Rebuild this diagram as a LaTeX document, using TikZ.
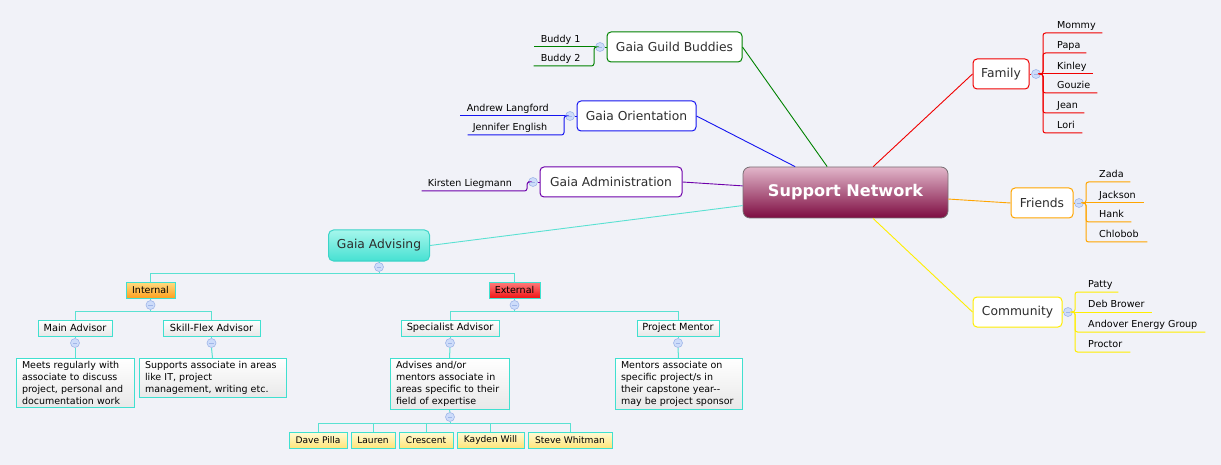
\documentclass[tikz,border=0pt]{standalone}
\usepackage{fontspec}
\setmainfont{DejaVu Sans}
\usetikzlibrary{calc}
\definecolor{bg}{RGB}{241,242,248}
\definecolor{tx}{RGB}{45,45,45}
\definecolor{cgreen}{RGB}{0,130,0}
\definecolor{cblue}{RGB}{20,20,240}
\definecolor{cpurple}{RGB}{110,0,170}
\definecolor{cred}{RGB}{240,0,0}
\definecolor{corange}{RGB}{255,165,0}
\definecolor{cyellow}{RGB}{255,238,0}
\definecolor{turq}{RGB}{64,224,208}
\definecolor{tline}{RGB}{90,225,210}
\definecolor{tgray}{RGB}{232,232,232}
\definecolor{cfill}{RGB}{205,220,250}
\definecolor{cbd}{RGB}{160,182,232}
\definecolor{snb}{RGB}{120,110,115}
\definecolor{sntop}{RGB}{226,182,202}
\definecolor{snmid}{RGB}{170,70,115}
\definecolor{snbot}{RGB}{125,12,65}
\definecolor{gatop}{RGB}{165,246,236}
\definecolor{gabot}{RGB}{70,225,210}
\definecolor{gabd}{RGB}{60,212,200}
\definecolor{intop}{RGB}{255,220,130}
\definecolor{inbot}{RGB}{255,160,30}
\definecolor{extop}{RGB}{255,125,125}
\definecolor{exbot}{RGB}{240,20,20}
\definecolor{yltop}{RGB}{255,252,215}
\definecolor{ylbot}{RGB}{255,228,120}
\newcommand\lb[3]{\makebox[#1pt][l]{\hspace*{#2pt}#3}}
\tikzset{
  topic/.style={draw=#1, fill=white, line width=1pt, rounded corners=4pt, inner sep=0pt, text=tx, font=\fontsize{12.3}{14}\selectfont},
  tsize/.style 2 args={minimum width=#1pt, minimum height=#2pt},
  mcircle/.style={circle, draw=cbd, fill=cfill, minimum size=9pt, inner sep=0pt, line width=0.6pt,
    path picture={\draw[cbd, line width=0.8pt] ([xshift=2.2pt]path picture bounding box.west) -- ([xshift=-2.2pt]path picture bounding box.east);}},
  leaf/.style={inner sep=0pt, text height=7.5pt, text depth=4pt, text=black, font=\fontsize{9.6}{11}\selectfont},
  conn/.style={line width=0.9pt, draw=#1},
  br/.style={line width=1pt, draw=#1, rounded corners=2.5pt},
  tnode/.style={draw=turq, line width=1pt, top color=white, bottom color=tgray, inner sep=0pt, text=black, font=\fontsize{9.8}{11}\selectfont},
  desc/.style={draw=turq, line width=1pt, top color=white, bottom color=tgray, inner xsep=6pt, inner ysep=3pt, align=left, anchor=north, text=black, font=\fontsize{9.5}{12}\selectfont},
  yleaf/.style={tnode, top color=yltop, bottom color=ylbot, font=\fontsize{9.1}{11}\selectfont},
  tl/.style={draw=tline, line width=1pt},
}
\begin{document}
\begin{tikzpicture}[x=1pt,y=-1pt]
\path[fill=bg] (0,0) rectangle (1221,465);

% central node
\node[draw=snb, line width=0.8pt, rounded corners=7pt, top color=sntop, middle color=snmid, bottom color=snbot, minimum width=205pt, minimum height=51pt, inner sep=0pt, text=white, font=\bfseries\fontsize{16.1}{18}\selectfont] (sn) at (845.5,192.5) {Support Network};

% Gaia Guild Buddies
\node[topic=cgreen, tsize={135}{30}] (ggb) at (674.5,47) {Gaia Guild Buddies};
\node[mcircle] (ggbc) at (600,47) {};
\node[leaf, anchor=south east] (b1) at (594,47) {\lb{60}{7}{Buddy 1}};
\node[leaf, anchor=south east] (b2) at (594,66) {\lb{60}{7}{Buddy 2}};
\draw[conn=cgreen] (ggb.west) -- (ggbc.east);
\draw[br=cgreen] (ggbc.west) -- (b1.south west);
\draw[br=cgreen] (ggbc.west) -- (ggbc.west -| b2.south east) |- (b2.south west);
\draw[conn=cgreen] (ggb.east) -- (sn);

% Gaia Orientation
\node[topic=cblue, tsize={119}{30}] (go) at (636.5,116) {Gaia Orientation};
\node[mcircle] (goc) at (570,116) {};
\node[leaf, anchor=south east] (al) at (564,116) {\lb{104}{7}{Andrew Langford}};
\node[leaf, anchor=south east] (je) at (564,135) {\lb{96}{5}{Jennifer English}};
\draw[conn=cblue] (go.west) -- (goc.east);
\draw[br=cblue] (goc.west) -- (al.south west);
\draw[br=cblue] (goc.west) -- (goc.west -| je.south east) |- (je.south west);
\draw[conn=cblue] (go.east) -- (sn);

% Gaia Administration
\node[topic=cpurple, tsize={142}{30}] (gadm) at (611,182) {Gaia Administration};
\node[mcircle] (gadmc) at (533,182) {};
\node[leaf, anchor=south east] (kl) at (527,191) {\lb{105}{6}{Kirsten Liegmann}};
\draw[conn=cpurple] (gadm.west) -- (gadmc.east);
\draw[br=cpurple] (gadmc.west) -- (gadmc.west -| kl.south east) |- (kl.south west);
\draw[conn=cpurple] (gadm.east) -- (sn);

% Family
\node[topic=cred, tsize={56}{30}] (fam) at (1001,74) {Family};
\node[mcircle] (famc) at (1036,74) {};
\node[leaf, anchor=south west] (mo) at (1043,33) {\lb{59}{14}{Mommy}};
\node[leaf, anchor=south west] (pa) at (1043,53) {\lb{43}{14}{Papa}};
\node[leaf, anchor=south west] (ki) at (1043,74) {\lb{50}{14}{Kinley}};
\node[leaf, anchor=south west] (gz) at (1043,93) {\lb{54}{14}{Gouzie}};
\node[leaf, anchor=south west] (jn) at (1043,113) {\lb{41}{14}{Jean}};
\node[leaf, anchor=south west] (lo) at (1043,133) {\lb{39}{14}{Lori}};
\draw[conn=cred] (fam.east) -- (famc.west);
\draw[br=cred] (famc.east) -- (ki.south east);
\foreach \n in {mo,pa,gz,jn,lo}
  \draw[br=cred] (famc.east) -- (famc.east -| \n.south west) |- (\n.south east);
\draw[conn=cred] (fam.west) -- (sn);

% Friends
\node[topic=corange, tsize={62}{30}] (fri) at (1042,203) {Friends};
\node[mcircle] (fric) at (1079,203) {};
\node[leaf, anchor=south west] (za) at (1086,182) {\lb{44}{13}{Zada}};
\node[leaf, anchor=south west] (ja) at (1086,203) {\lb{58}{13}{Jackson}};
\node[leaf, anchor=south west] (ha) at (1086,222) {\lb{45}{13}{Hank}};
\node[leaf, anchor=south west] (ch) at (1086,242) {\lb{61}{13}{Chlobob}};
\draw[conn=corange] (fri.east) -- (fric.west);
\draw[br=corange] (fric.east) -- (ja.south east);
\foreach \n in {za,ha,ch}
  \draw[br=corange] (fric.east) -- (fric.east -| \n.south west) |- (\n.south east);
\draw[conn=corange] (fri.west) -- (sn);

% Community
\node[topic=cyellow, tsize={89}{30}] (com) at (1017.5,312) {Community};
\node[mcircle] (comc) at (1068,312) {};
\node[leaf, anchor=south west] (pt) at (1075,292) {\lb{43}{13}{Patty}};
\node[leaf, anchor=south west] (db) at (1075,312) {\lb{77}{13}{Deb Brower}};
\node[leaf, anchor=south west] (ae) at (1075,332) {\lb{130}{13}{Andover Energy Group}};
\node[leaf, anchor=south west] (pr) at (1075,352) {\lb{55}{13}{Proctor}};
\draw[conn=cyellow] (com.east) -- (comc.west);
\draw[br=cyellow] (comc.east) -- (db.south east);
\foreach \n in {pt,ae,pr}
  \draw[br=cyellow] (comc.east) -- (comc.east -| \n.south west) |- (\n.south east);
\draw[conn=cyellow] (com.west) -- (sn);

% Gaia Advising
\node[draw=gabd, line width=1pt, rounded corners=5pt, top color=gatop, bottom color=gabot, minimum width=101pt, minimum height=31pt, inner sep=0pt, text=tx, font=\fontsize{12.3}{14}\selectfont] (ga) at (379,245.5) {Gaia Advising};
\draw[conn=tline] (ga.east) -- (sn);
\node[mcircle] (gac) at (379,267) {};
\draw[tl] (ga.south) -- (gac.north);

\node[tnode, top color=intop, bottom color=inbot, tsize={49}{16}, font=\fontsize{9.5}{11}\selectfont] (int) at (150.5,290) {Internal};
\node[tnode, top color=extop, bottom color=exbot, tsize={51}{16}, font=\fontsize{9.5}{11}\selectfont] (ext) at (514.5,290) {External};
\draw[tl] (gac.south) -- ++(0,1.5) -| (int.north);
\draw[tl] (gac.south) -- ++(0,1.5) -| (ext.north);

% Internal branch
\node[mcircle] (intc) at (150.5,305) {};
\draw[tl] (int.south) -- (intc.north);
\node[tnode, tsize={74}{16}] (ma) at (75,328) {Main Advisor};
\node[tnode, tsize={97}{16}] (sf) at (211.5,328) {Skill-Flex Advisor};
\draw[tl] (intc.south) -- ++(0,1.5) -| (ma.north);
\draw[tl] (intc.south) -- ++(0,1.5) -| (sf.north);
\node[mcircle] (mac) at (75,343) {};
\node[mcircle] (sfc) at (211.5,343) {};
\draw[tl] (ma.south) -- (mac.north);
\draw[tl] (sf.south) -- (sfc.north);
\node[desc, text width=106pt] (mad) at (75,358) {Meets regularly with\\associate to discuss\\project, personal and\\documentation work};
\node[desc, text width=135pt] (sfd) at (212.5,358) {Supports associate in areas\\like IT, project\\management, writing etc.};
\draw[tl] (mac.south) -- (mad.north);
\draw[tl] (sfc.south) -- (sfd.north);

% External branch
\node[mcircle] (extc) at (514.5,305) {};
\draw[tl] (ext.south) -- (extc.north);
\node[tnode, tsize={98}{16}] (sa) at (450,328) {Specialist Advisor};
\node[tnode, tsize={82}{16}] (pm) at (678,328) {Project Mentor};
\draw[tl] (extc.south) -- ++(0,1.5) -| (sa.north);
\draw[tl] (extc.south) -- ++(0,1.5) -| (pm.north);
\node[mcircle] (sac) at (450,343) {};
\node[mcircle] (pmc) at (678,343) {};
\draw[tl] (sa.south) -- (sac.north);
\draw[tl] (pm.south) -- (pmc.north);
\node[desc, text width=107pt] (sad) at (449.5,358) {Advises and/or\\mentors associate in\\areas specific to their\\field of expertise};
\node[desc, text width=115pt] (pmd) at (678.5,358) {Mentors associate on\\specific project/s in\\their capstone year{-}{-}\\may be project sponsor};
\draw[tl] (sac.south) -- (sad.north);
\draw[tl] (pmc.south) -- (pmd.north);

% Specialist leaves
\node[mcircle] (sdc) at (450,417) {};
\draw[tl] (sad.south) -- (sdc.north);
\node[yleaf, tsize={58}{16}] (dp) at (318,440) {Dave Pilla};
\node[yleaf, tsize={44}{16}] (la) at (373,440) {Lauren};
\node[yleaf, tsize={54}{16}] (cr) at (426,440) {Crescent};
\node[yleaf, tsize={67}{16}] (kw) at (490.5,440) {Kayden Will};
\node[yleaf, tsize={84}{16}] (sw) at (570,440) {Steve Whitman};
\foreach \n in {dp,la,cr,kw,sw}
  \draw[tl] (sdc.south) -- ++(0,1.5) -| (\n.north);
\end{tikzpicture}
\end{document}
